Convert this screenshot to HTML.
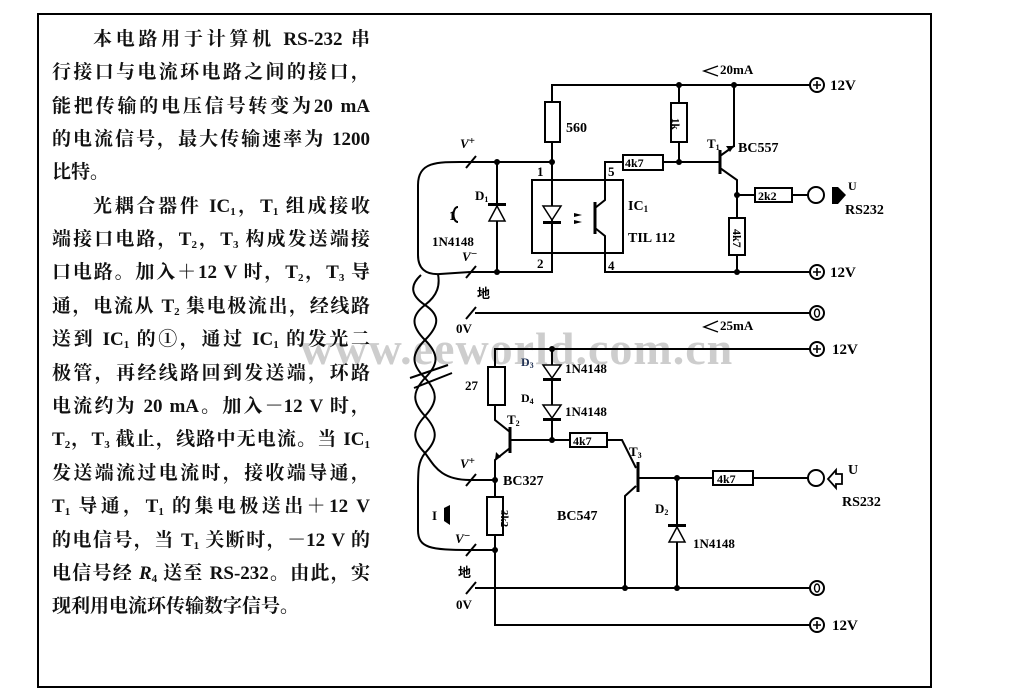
<!DOCTYPE html>
<html><head><meta charset="utf-8"><style>
body{margin:0;width:1024px;height:698px;background:#fff;overflow:hidden;position:relative;font-family:"Liberation Serif","Noto Serif CJK SC","Noto Sans CJK SC",serif;}
.frame{position:absolute;left:37px;top:13px;width:895px;height:675px;border:2px solid #000;box-sizing:border-box;}
.ln{position:absolute;left:52px;width:318px;height:26px;line-height:26px;font-size:19px;font-weight:bold;color:#111;text-align:justify;text-align-last:justify;white-space:nowrap;}
.ln.in{left:93px;width:277px;}
.ln.nj{text-align-last:left;}
sub{font-size:11px;vertical-align:-3px;line-height:0;}
.wm{position:absolute;left:300px;top:322px;font-size:46px;font-weight:bold;color:#cdcdcd;letter-spacing:1px;font-family:"Liberation Serif",serif;}
svg{position:absolute;left:0;top:0;}
</style></head><body>
<div class="frame"></div>
<div class="wm">www.eeworld.com.cn</div>
<div class="ln in" style="top:27px">本电路用于计算机 RS-232 串</div>
<div class="ln" style="top:60px">行接口与电流环电路之间的接口，</div>
<div class="ln" style="top:94px">能把传输的电压信号转变为20 mA</div>
<div class="ln" style="top:127px">的电流信号，最大传输速率为 1200</div>
<div class="ln nj" style="top:160px">比特。</div>
<div class="ln in" style="top:194px">光耦合器件 IC<sub>1</sub>，T<sub>1</sub> 组成接收</div>
<div class="ln" style="top:227px">端接口电路，T<sub>2</sub>，T<sub>3</sub> 构成发送端接</div>
<div class="ln" style="top:260px">口电路。加入＋12 V 时，T<sub>2</sub>，T<sub>3</sub> 导</div>
<div class="ln" style="top:294px">通，电流从 T<sub>2</sub> 集电极流出，经线路</div>
<div class="ln" style="top:327px">送到 IC<sub>1</sub> 的①，通过 IC<sub>1</sub> 的发光二</div>
<div class="ln" style="top:361px">极管，再经线路回到发送端，环路</div>
<div class="ln" style="top:394px">电流约为 20 mA。加入－12 V 时，</div>
<div class="ln" style="top:427px">T<sub>2</sub>，T<sub>3</sub> 截止，线路中无电流。当 IC<sub>1</sub></div>
<div class="ln" style="top:461px">发送端流过电流时，接收端导通，</div>
<div class="ln" style="top:494px">T<sub>1</sub> 导通，T<sub>1</sub> 的集电极送出＋12 V</div>
<div class="ln" style="top:528px">的电信号，当 T<sub>1</sub> 关断时，－12 V 的</div>
<div class="ln" style="top:561px">电信号经 <i>R</i><sub>4</sub> 送至 RS-232。由此，实</div>
<div class="ln nj" style="top:594px">现利用电流环传输数字信号。</div>

<svg width="1024" height="698" viewBox="0 0 1024 698" font-family="Liberation Serif, serif" font-weight="bold" font-size="15">
<g stroke="#000" stroke-width="2" fill="none">
<path d="M552 102V85H810"/>
<rect x="545" y="102" width="15" height="40" fill="#fff"/>
<path d="M552 142V162"/>
<path d="M679 85V103M679 142V162"/>
<rect x="671" y="103" width="16" height="39" fill="#fff"/>
<path d="M734 85V147"/>
<path d="M470 162H552V272H470"/>
<path d="M497 162V272"/>
<path d="M605 180V162H623M663 162H720"/>
<rect x="623" y="155" width="40" height="15" fill="#fff"/>
<path d="M720 150V174" stroke-width="3"/>
<path d="M720 156L734 146M720 168L737 180V272"/>
<path d="M737 195H755M792 195H808"/>
<rect x="755" y="188" width="37" height="14" fill="#fff"/>
<rect x="729" y="218" width="16" height="37" fill="#fff"/>
<rect x="532" y="180" width="91" height="73"/>
<path d="M605 180V200L595 208M595 228L605 236V272H810"/>
<path d="M595 202V234" stroke-width="3"/>
<path d="M552 253V272"/>
<path d="M475 313H810"/>
<path d="M495 367V349H810"/>
<rect x="488" y="367" width="17" height="38" fill="#fff"/>
<path d="M495 405V420L510 432M510 448L495 460V625H810"/>
<path d="M510 427V453" stroke-width="3"/>
<path d="M552 349V440M510 440H570M607 440H622L636 468"/>
<rect x="570" y="433" width="37" height="14" fill="#fff"/>
<path d="M638 462V492" stroke-width="3"/>
<path d="M636 486L625 496V588"/>
<path d="M638 478H713M753 478H810"/>
<rect x="713" y="471" width="40" height="14" fill="#fff"/>
<path d="M677 478V588"/>
<path d="M470 480H495M470 550H495"/>
<rect x="487" y="497" width="16" height="38" fill="#fff"/>
<path d="M475 588H810"/>
<path d="M470 162C440 162 418 160 418 185V255C418 268 425 275 440 274L470 272"/>
<path d="M421 275C410 285 410 295 425 305C440 315 440 325 425 340C410 355 412 365 425 378C438 392 438 402 425 416C412 430 412 440 425 453C434 465 440 480 470 480"/>
<path d="M438 274C440 285 438 295 425 305C412 315 410 325 425 340C440 355 438 365 425 378C412 392 412 402 425 416C438 430 438 440 425 453C418 462 418 470 418 490V530C418 548 430 550 470 550"/>
<path d="M410 378L448 365M414 388L452 373"/>
<path d="M466 168L476 156M466 278L476 266M466 319L476 307M466 486L476 474M466 556L476 544M466 594L476 582"/>
<circle cx="817" cy="85" r="7" fill="#fff"/>
<circle cx="816" cy="195" r="8" fill="#fff"/>
<circle cx="817" cy="272" r="7" fill="#fff"/>
<circle cx="817" cy="313" r="7" fill="#fff"/>
<circle cx="817" cy="349" r="7" fill="#fff"/>
<circle cx="816" cy="478" r="8" fill="#fff"/>
<circle cx="817" cy="588" r="7" fill="#fff"/>
<circle cx="817" cy="625" r="7" fill="#fff"/>
<path d="M813 85H821M817 81V89M813 272H821M817 268V276M813 349H821M817 345V353M813 625H821M817 621V629" stroke-width="1.6"/>
<ellipse cx="817" cy="313" rx="2.5" ry="4" stroke-width="1.4"/>
<ellipse cx="817" cy="588" rx="2.5" ry="4" stroke-width="1.4"/>
<path d="M836 470L828 479L836 488V484H842V474H836Z" stroke-width="1.8"/>
<path d="M458 207C452 207 452 222 458 222" stroke-width="2"/>
<path d="M718 66L704 71L718 76M718 321L704 327L718 332" stroke-width="1.4"/>
</g>
<g fill="#000">
<path d="M489 221L505 221L497 206Z" stroke="#000" stroke-width="1.5" fill="#fff"/>
<rect x="488" y="203" width="18" height="3"/>
<path d="M543 206L561 206L552 220Z" stroke="#000" stroke-width="1.5" fill="#fff"/>
<rect x="543" y="221" width="18" height="3"/>
<path d="M574 213l8 2-8 2zM574 220l8 2-8 2" />
<path d="M543 365L561 365L552 378Z" stroke="#000" stroke-width="1.5" fill="#fff"/>
<rect x="543" y="378" width="18" height="3"/>
<path d="M543 405L561 405L552 418Z" stroke="#000" stroke-width="1.5" fill="#fff"/>
<rect x="543" y="418" width="18" height="3"/>
<path d="M669 542L685 542L677 527Z" stroke="#000" stroke-width="1.5" fill="#fff"/>
<rect x="668" y="524" width="18" height="3"/>
<path d="M734 146l-8 0 4 6z"/>
<path d="M495 460l1 -8 5 5z"/>
<path d="M832 187H838L846 195L838 204H832Z"/>
<path d="M444 508L450 505V525L444 521Z"/>
<circle cx="679" cy="85" r="3"/><circle cx="734" cy="85" r="3"/>
<circle cx="497" cy="162" r="3"/><circle cx="552" cy="162" r="3"/><circle cx="679" cy="162" r="3"/>
<circle cx="737" cy="195" r="3"/>
<circle cx="497" cy="272" r="3"/><circle cx="737" cy="272" r="3"/>
<circle cx="552" cy="349" r="3"/><circle cx="552" cy="440" r="3"/>
<circle cx="677" cy="478" r="3"/>
<circle cx="495" cy="480" r="3"/><circle cx="495" cy="550" r="3"/>
<circle cx="625" cy="588" r="3"/><circle cx="677" cy="588" r="3"/>
<text x="830" y="90">12V</text><text x="830" y="277">12V</text>
<text x="832" y="354">12V</text><text x="832" y="630">12V</text>
<text x="720" y="74" font-size="13">20mA</text>
<text x="720" y="330" font-size="13">25mA</text>
<text x="566" y="132" font-size="14">560</text>
<text x="676" y="130" font-size="11" transform="rotate(90 680 122)">1k</text>
<text x="625" y="167" font-size="12">4k7</text>
<text x="758" y="200" font-size="12">2k2</text>
<text x="730" y="240" font-size="12" transform="rotate(90 737 236)">4k7</text>
<text x="573" y="445" font-size="12">4k7</text>
<text x="717" y="483" font-size="12">4k7</text>
<text x="489" y="510" font-size="11" transform="rotate(90 495 516)">3k2</text>
<text x="707" y="148" font-size="13">T<tspan font-size="8" dy="2">1</tspan></text>
<text x="738" y="152" font-size="14">BC557</text>
<text x="848" y="190" font-size="12">U</text>
<text x="845" y="214" font-size="14">RS232</text>
<text x="848" y="474" font-size="14">U</text>
<text x="842" y="506" font-size="14">RS232</text>
<text x="537" y="176" font-size="13">1</text><text x="608" y="176" font-size="13">5</text>
<text x="537" y="268" font-size="13">2</text><text x="608" y="270" font-size="13">4</text>
<text x="628" y="210" font-size="14">IC<tspan font-size="9" dy="2">1</tspan></text>
<text x="628" y="242" font-size="14">TIL 112</text>
<text x="475" y="200" font-size="13">D<tspan font-size="8" dy="2">1</tspan></text>
<text x="449" y="220" font-size="13">1</text>
<text x="432" y="246" font-size="13">1N4148</text>
<text x="460" y="148" font-size="13" font-style="italic">V<tspan dy="-4" font-size="11">+</tspan></text>
<text x="462" y="261" font-size="13" font-style="italic">V<tspan dy="-4" font-size="11">−</tspan></text>
<text x="477" y="298" font-size="13" font-family="Noto Sans CJK SC, sans-serif">地</text>
<text x="456" y="333" font-size="13">0V</text>
<text x="465" y="390" font-size="13">27</text>
<text x="521" y="366" font-size="12" fill="#235">D<tspan font-size="8" dy="2">3</tspan></text>
<text x="565" y="373" font-size="13">1N4148</text>
<text x="521" y="402" font-size="12">D<tspan font-size="8" dy="2">4</tspan></text>
<text x="565" y="416" font-size="13">1N4148</text>
<text x="507" y="424" font-size="13">T<tspan font-size="8" dy="2">2</tspan></text>
<text x="629" y="456" font-size="13">T<tspan font-size="8" dy="2">3</tspan></text>
<text x="460" y="468" font-size="13" font-style="italic">V<tspan dy="-4" font-size="11">+</tspan></text>
<text x="503" y="485" font-size="14">BC327</text>
<text x="557" y="520" font-size="14">BC547</text>
<text x="432" y="520" font-size="13">I</text>
<text x="455" y="543" font-size="13" font-style="italic">V<tspan dy="-4" font-size="11">−</tspan></text>
<text x="655" y="513" font-size="13">D<tspan font-size="8" dy="2">2</tspan></text>
<text x="693" y="548" font-size="13">1N4148</text>
<text x="458" y="577" font-size="13" font-family="Noto Sans CJK SC, sans-serif">地</text>
<text x="456" y="609" font-size="13">0V</text>
</g>
</svg>
</body></html>
